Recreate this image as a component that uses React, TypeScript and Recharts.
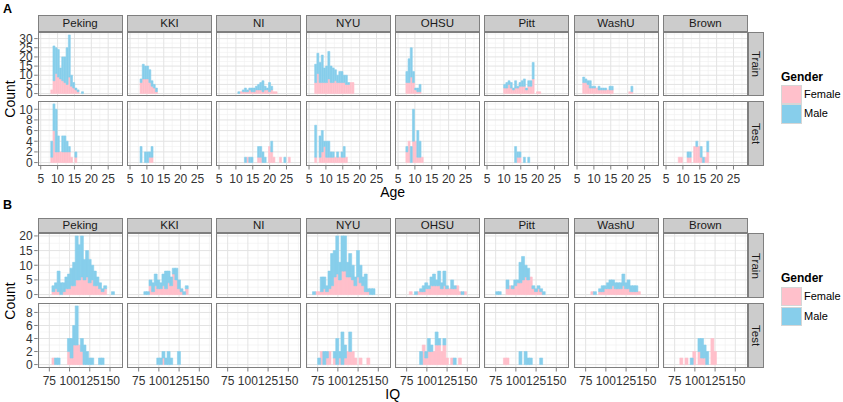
import React from 'react';
import { BarChart, Bar, XAxis, YAxis, CartesianGrid } from 'recharts';

const sites = ['Peking', 'KKI', 'NI', 'NYU', 'OHSU', 'Pitt', 'WashU', 'Brown'];
const splits = ['Train', 'Test'];
const genders = ['Female', 'Male'];

// Age histogram: bin centres 7.0, 7.65, ... (31 bins)
const ageBinStart = 7.0;
const ageBinWidth = 0.65;
const ageBinCount = 31;
const ageTicks = [5, 10, 15, 20, 25];
const ageTrainTicks = [0, 5, 10, 15, 20, 25, 30];
const ageTestTicks = [0, 2, 4, 6, 8, 10];

// IQ histogram: bin centres 67, 70.2, ... (30 bins)
const iqBinStart = 67;
const iqBinWidth = 3.2;
const iqBinCount = 30;
const iqTicks = [75, 100, 125, 150];
const iqTrainTicks = [0, 5, 10, 15, 20];
const iqTestTicks = [0, 2, 4, 6, 8];

// counts per bin, one row per site (order of `sites`), trailing zeros left out
const ageTrainFemale = [
  [0, 0, 2, 7, 11, 9, 8, 7, 6, 5, 9, 4, 3, 2, 1],
  [0, 0, 6, 8, 8, 8, 6, 4, 3, 1],
  [0, 0, 0, 0, 0, 0, 0, 1, 1, 1, 1, 2, 1, 1, 2, 2, 2, 1, 2, 2, 1, 2, 1, 1],
  [6, 11, 6, 6, 6, 6, 8, 6, 6, 7, 6, 6, 6, 6, 5, 5, 6, 6],
  [0, 6, 6, 9, 6, 2, 1, 1],
  [0, 0, 0, 0, 0, 3, 3, 5, 3, 2, 3, 3, 4, 4, 4, 2, 4, 4, 8, 0, 1, 1],
  [6, 6, 5, 3, 3, 3, 3, 2, 2, 2, 2, 2, 2, 2, 0, 0, 0, 0, 0, 0, 0, 1, 1],
  [],
];
const ageTrainMale = [
  [0, 0, 0, 19, 14, 15, 6, 13, 14, 20, 23, 6, 3, 1, 1, 0, 1],
  [0, 0, 2, 8, 7, 7, 7, 3, 2, 2],
  [0, 0, 0, 0, 0, 0, 1, 0, 1, 2, 1, 1, 2, 2, 2, 3, 4, 6, 2, 1, 5, 2],
  [10, 11, 11, 15, 8, 9, 15, 9, 8, 6, 4, 6, 6, 4, 5, 1],
  [0, 6, 13, 16, 6, 1, 2, 4],
  [0, 0, 0, 0, 0, 2, 3, 2, 3, 1, 4, 1, 2, 3, 4, 1, 3, 3, 9],
  [3, 2, 2, 4, 1, 1, 0, 2, 1, 1, 1, 0, 2, 2, 0, 0, 0, 0, 0, 0, 0, 0, 3],
  [],
];
const ageTestFemale = [
  [0, 0, 1, 6, 2, 2, 2, 2, 2, 2, 2, 1, 0, 1],
  [0, 0, 0, 0, 0, 0, 1, 1],
  [0, 0, 0, 0, 0, 0, 0, 0, 0, 0, 1, 0, 0, 0, 0, 1, 1, 0, 0, 0, 3, 2, 1, 0, 0, 1, 0, 0, 0, 1],
  [1, 0, 1, 2, 3, 1, 1, 1, 1, 1, 1, 1, 1, 1, 1],
  [0, 2, 4, 0, 4, 4, 1, 1, 1],
  [0, 0, 0, 0, 0, 0, 0, 0, 0, 0, 0, 1, 1],
  [],
  [0, 0, 0, 1, 1, 0, 0, 1, 1, 0, 3, 3, 3, 1, 0, 1, 2],
];
const ageTestMale = [
  [0, 0, 3, 5, 8, 3, 0, 3, 3, 2, 1, 0, 0, 1],
  [0, 0, 3, 0, 2, 2, 1, 2],
  [0, 0, 0, 0, 0, 0, 0, 0, 0, 1, 0, 1, 1, 0, 0, 2, 2, 2, 1, 0, 0, 2, 0, 0, 0, 0, 0, 1],
  [6, 0, 4, 4, 1, 3, 3, 1, 1, 0, 1, 0, 1, 2],
  [0, 1, 0, 3, 6, 0, 5, 3],
  [0, 0, 0, 0, 0, 0, 0, 0, 0, 0, 3, 1, 1, 0, 1, 0, 1],
  [],
  [0, 0, 0, 0, 0, 0, 0, 1, 1, 0, 0, 1, 0, 2, 1, 0, 2],
];

const iqTrainFemale = [
  [0, 0, 0, 0, 1, 2, 1, 0, 1, 2, 2, 3, 3, 5, 5, 6, 5, 6, 4, 5, 3, 3, 2, 1, 2],
  [0, 0, 0, 0, 0, 0, 0, 3, 1, 3, 2, 2, 3, 2, 4, 3, 7, 5, 2, 1, 0, 2],
  [],
  [0, 0, 1, 1, 1, 2, 1, 2, 3, 6, 7, 5, 8, 8, 6, 6, 5, 3, 6, 4, 3, 1, 1],
  [0, 0, 0, 0, 1, 0, 0, 1, 1, 1, 2, 2, 3, 3, 3, 3, 2, 3, 2, 2, 2, 2, 3, 1, 0, 1],
  [0, 0, 0, 0, 0, 0, 0, 2, 3, 2, 3, 4, 4, 5, 6, 5, 6, 2, 1, 2, 1],
  [0, 0, 0, 0, 0, 1, 0, 0, 1, 1, 2, 2, 2, 3, 2, 2, 2, 3, 2, 2, 1, 1, 1, 1],
  [],
];
const iqTrainMale = [
  [0, 0, 0, 0, 2, 2, 7, 4, 3, 4, 5, 6, 8, 15, 12, 14, 7, 9, 8, 5, 5, 3, 2, 1, 1, 0, 0, 1],
  [0, 0, 0, 0, 0, 1, 1, 2, 3, 4, 3, 2, 4, 6, 4, 3, 2, 4, 3, 1, 1, 1],
  [],
  [0, 1, 0, 0, 5, 4, 2, 6, 11, 9, 13, 6, 12, 12, 5, 8, 5, 3, 9, 6, 3, 6, 1, 2, 2],
  [0, 0, 0, 0, 0, 0, 1, 0, 1, 2, 2, 1, 3, 4, 2, 5, 2, 5, 1, 0, 3, 1, 0, 0, 1],
  [0, 0, 0, 1, 1, 0, 0, 3, 0, 1, 2, 1, 7, 8, 4, 4, 0, 1, 1, 1, 1, 1],
  [0, 0, 0, 0, 0, 0, 1, 0, 1, 2, 1, 2, 3, 2, 2, 2, 2, 4, 2, 3, 2, 2, 2],
  [],
];
const iqTestFemale = [
  [0, 0, 0, 0, 1, 0, 0, 0, 0, 0, 2, 1, 3, 3, 3, 2, 0],
  [0, 0, 0, 0, 0, 0, 0, 0, 0, 0, 0, 0, 1],
  [],
  [0, 0, 0, 0, 2, 0, 1, 2, 0, 1, 0, 1, 0, 1, 2, 2, 2, 1, 0, 1, 0, 0, 1],
  [0, 0, 0, 0, 0, 0, 0, 0, 0, 3, 1, 2, 2, 2, 3, 3, 2, 3, 1, 0, 1, 0, 0, 1],
  [0, 0, 0, 0, 0, 0, 1, 1],
  [],
  [0, 0, 0, 0, 0, 1, 0, 1, 0, 0, 2, 0, 2, 1, 1, 0, 0, 4, 2],
];
const iqTestMale = [
  [0, 0, 0, 0, 0, 1, 1, 0, 0, 0, 2, 3, 3, 6, 0, 2, 3, 2, 1, 1, 0, 0, 1, 1],
  [0, 0, 0, 0, 0, 0, 0, 0, 0, 0, 1, 1, 1, 1, 2, 1, 0, 0, 2],
  [],
  [0, 0, 0, 1, 0, 2, 1, 0, 0, 1, 4, 1, 5, 2, 0, 3],
  [0, 0, 0, 0, 0, 0, 0, 0, 2, 0, 1, 2, 1, 0, 2, 1, 0, 1, 0, 0, 0, 1],
  [0, 0, 0, 0, 0, 0, 0, 0, 0, 0, 0, 0, 2, 0, 2, 1, 1, 0, 0, 0, 1],
  [],
  [0, 0, 0, 0, 0, 0, 0, 0, 0, 1, 0, 0, 2, 3, 2, 2],
];

const FONT = '"Liberation Sans", Arial, Helvetica, sans-serif';
const PINK = '#FFC0CB';
const BLUE = '#87CEEB';
const BORDER = '#7f7f7f';
const STRIP_BG = '#cccccc';

const COL_LEFT = [37.7, 127, 216.3, 305.6, 394.9, 484.2, 573.5, 662.8];
const PANEL_W = 85;
const PANEL_H = 64.5;
const YAXIS_W = 37.7;
const XAXIS_H = 24;
const PAD = 6; // room so edge tick labels are not clipped
const RIGHT_STRIP_X = 747.8;

const blocks = [
  {
    tag: 'A', tagTop: 2.5, stripTop: 15, rowTops: [31.7, 101.2], countY: 98.7,
    title: 'Age', titleY: 191.7, legendY: 76.7, keyTop: 84.5,
    binStart: ageBinStart, binWidth: ageBinWidth, binCount: ageBinCount,
    xDomain: [4.1, 29.3], xTicks: ageTicks, xMinor: [7.5, 12.5, 17.5, 22.5, 27.5],
    yDomains: [[-1.6, 33.6], [-0.55, 11.55]],
    yTicks: [ageTrainTicks, ageTestTicks],
    yMinor: [[2.5, 7.5, 12.5, 17.5, 22.5, 27.5, 32.5], [1, 3, 5, 7, 9, 11]],
    female: [ageTrainFemale, ageTestFemale], male: [ageTrainMale, ageTestMale],
  },
  {
    tag: 'B', tagTop: 199, stripTop: 217.6, rowTops: [233.3, 303.3], countY: 300.5,
    title: 'IQ', titleY: 394.3, legendY: 278.3, keyTop: 286.7,
    binStart: iqBinStart, binWidth: iqBinWidth, binCount: iqBinCount,
    xDomain: [60.6, 165.7], xTicks: iqTicks, xMinor: [62.5, 87.5, 112.5, 137.5, 162.5],
    yDomains: [[-1, 21], [-0.45, 9.45]],
    yTicks: [iqTrainTicks, iqTestTicks],
    yMinor: [[2.5, 7.5, 12.5, 17.5], [1, 3, 5, 7, 9]],
    female: [iqTrainFemale, iqTestFemale], male: [iqTrainMale, iqTestMale],
  },
];

type Block = (typeof blocks)[number];

const tickStyle = { fontSize: 12, fill: '#333333', fontFamily: FONT };

function Facet({ block, row, col }: { block: Block; row: number; col: number }) {
  const showY = col === 0;
  const showX = row === 1;
  const data = Array.from({ length: block.binCount }, (_, i) => ({
    x: Math.round((block.binStart + block.binWidth * i) * 1000) / 1000,
    female: block.female[row][col][i] ?? 0,
    male: block.male[row][col][i] ?? 0,
  }));
  const width = PANEL_W + (showY ? YAXIS_W : 0);
  const height = PAD + PANEL_H + (showX ? XAXIS_H : 0) + PAD;
  const left = COL_LEFT[col];
  const top = block.rowTops[row];
  return (
    <>
      <div style={{ position: 'absolute', left: left - (showY ? YAXIS_W : 0), top: top - PAD }}>
        <BarChart width={width} height={height} data={data} margin={{ top: PAD, right: 0, bottom: PAD, left: 0 }}
          barCategoryGap={0} barGap={0}>
          <CartesianGrid verticalValues={block.xMinor} horizontalValues={block.yMinor[row]} stroke="#f2f2f2" strokeWidth={0.7} />
          <CartesianGrid verticalValues={block.xTicks} horizontalValues={block.yTicks[row]} stroke="#e3e3e3" strokeWidth={1} />
          <XAxis type="number" dataKey="x" domain={block.xDomain} allowDataOverflow ticks={block.xTicks} interval={0}
            hide={!showX} height={XAXIS_H} tickSize={4} tickMargin={5} axisLine={false}
            tickLine={{ stroke: BORDER }} tick={tickStyle} />
          <YAxis type="number" domain={block.yDomains[row]} allowDataOverflow ticks={block.yTicks[row]} interval={0}
            hide={!showY} width={YAXIS_W} tickSize={3.5} tickMargin={1.5} axisLine={false}
            tickLine={{ stroke: BORDER }} tick={tickStyle} />
          <Bar dataKey="female" name={genders[0]} stackId="g" fill={PINK} stroke={PINK} strokeWidth={0.6}
            isAnimationActive={false} />
          <Bar dataKey="male" name={genders[1]} stackId="g" fill={BLUE} stroke={BLUE} strokeWidth={0.6}
            isAnimationActive={false} />
        </BarChart>
      </div>
      <div style={{ position: 'absolute', left, top, width: PANEL_W, height: PANEL_H, border: `1px solid ${BORDER}`,
        boxSizing: 'border-box', pointerEvents: 'none' }} />
    </>
  );
}

function BlockView({ block }: { block: Block }) {
  const stripH = block.rowTops[0] - block.stripTop;
  return (
    <>
      <div style={{ position: 'absolute', left: 3, top: block.tagTop, fontSize: 12.5, fontWeight: 'bold', lineHeight: '12px' }}>
        {block.tag}
      </div>
      {splits.map((sp, r) => sites.map((s, c) => <Facet key={sp + s} block={block} row={r} col={c} />))}
      {sites.map((s, c) => (
        <div key={s} style={{ position: 'absolute', left: COL_LEFT[c], top: block.stripTop, width: PANEL_W, height: stripH,
          background: STRIP_BG, border: `1px solid ${BORDER}`, boxSizing: 'border-box', fontSize: 11.5, color: '#1a1a1a',
          display: 'flex', alignItems: 'center', justifyContent: 'center' }}>{s}</div>
      ))}
      {splits.map((sp, r) => (
        <div key={sp} style={{ position: 'absolute', left: RIGHT_STRIP_X, top: block.rowTops[r], width: 16.5, height: PANEL_H,
          background: STRIP_BG, border: `1px solid ${BORDER}`, boxSizing: 'border-box', fontSize: 11.5, color: '#1a1a1a',
          display: 'flex', alignItems: 'center', justifyContent: 'center' }}>
          <span style={{ writingMode: 'vertical-rl' }}>{sp}</span>
        </div>
      ))}
      <div style={{ position: 'absolute', left: -20, top: block.countY - 9, width: 60, height: 18, lineHeight: '18px',
        textAlign: 'center', fontSize: 14, transform: 'rotate(-90deg)' }}>Count</div>
      <div style={{ position: 'absolute', left: 342.7, top: block.titleY - 9, width: 100, height: 18, lineHeight: '18px',
        textAlign: 'center', fontSize: 14 }}>{block.title}</div>
      <div style={{ position: 'absolute', left: 781, top: block.legendY - 7, lineHeight: '14px', fontSize: 12, fontWeight: 'bold' }}>
        Gender
      </div>
      {genders.map((g, i) => (
        <React.Fragment key={g}>
          <div style={{ position: 'absolute', left: 781, top: block.keyTop + i * 19.8, width: 20.5, height: 19.8,
            background: i === 0 ? PINK : BLUE, border: '1px solid #d6d6d6', boxSizing: 'border-box' }} />
          <div style={{ position: 'absolute', left: 804, top: block.keyTop + i * 19.8, height: 19.8, lineHeight: '19.8px',
            fontSize: 11, whiteSpace: 'nowrap' }}>{g}</div>
        </React.Fragment>
      ))}
    </>
  );
}

export default function App() {
  return (
    <div style={{ position: 'absolute', left: 0, top: 0, width: 843, height: 402, background: '#fff', overflow: 'hidden',
      fontFamily: FONT, color: '#000' }}>
      {blocks.map((b) => <BlockView key={b.tag} block={b} />)}
    </div>
  );
}
